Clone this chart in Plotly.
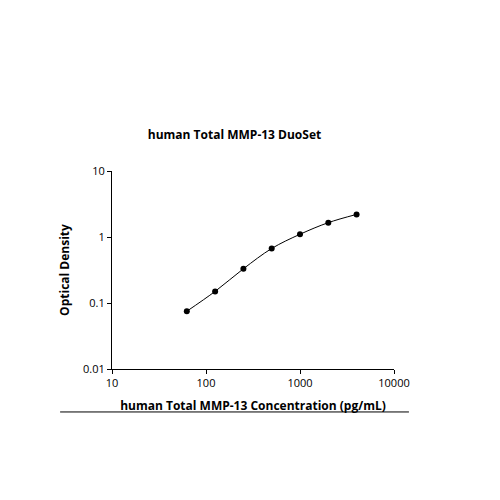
import plotly.graph_objects as go

conc = [62.5, 125, 250, 500, 1000, 2000, 4000]
od = [0.075, 0.15, 0.33, 0.67, 1.1, 1.65, 2.2]
title = "human Total MMP-13 DuoSet"
xlabel = "human Total MMP-13 Concentration (pg/mL)"
ylabel = "Optical Density"

fig = go.Figure()
fig.add_trace(go.Scatter(x=conc, y=od, mode="lines", line=dict(color="black", width=1, shape="spline"), hoverinfo="skip"))
fig.add_trace(go.Scatter(x=conc, y=od, mode="markers", marker=dict(color="black", size=6)))

axfont = dict(family="Open Sans", size=11, color="black")
fig.update_layout(
    width=500, height=500, showlegend=False,
    plot_bgcolor="white", paper_bgcolor="white",
    margin=dict(l=104, r=114, t=163, b=139),
    title=dict(text="<b>" + title + "</b>", x=0.453, xanchor="center", y=1 - 127 / 500, yanchor="middle",
               font=dict(family="Open Sans", size=12, color="black")),
    xaxis=dict(type="log", range=[1, 4], tickvals=[10, 100, 1000, 10000], ticktext=["10", "100", "1000", "10000"],
               showgrid=False, zeroline=False, showline=True, linecolor="black", linewidth=1,
               ticks="outside", ticklen=4, tickcolor="black", tickfont=axfont,
               title=dict(text="<b>" + xlabel + "</b>", font=dict(family="Open Sans", size=12, color="black"), standoff=12)),
    yaxis=dict(type="log", range=[-2, 1], tickvals=[0.01, 0.1, 1, 10], ticktext=["0.01", "0.1", "1", "10"],
               showgrid=False, zeroline=False, showline=True, linecolor="black", linewidth=1,
               ticks="outside", ticklen=4, tickcolor="black", tickfont=axfont,
               title=dict(text="<b>" + ylabel + "</b>", font=dict(family="Open Sans", size=12, color="black"), standoff=10)),
    shapes=[dict(type="line", xref="paper", yref="paper", x0=-0.184, x1=1.053, y0=-0.217, y1=-0.217,
                 line=dict(color="black", width=1))],
)
fig.write_html("out.html")
